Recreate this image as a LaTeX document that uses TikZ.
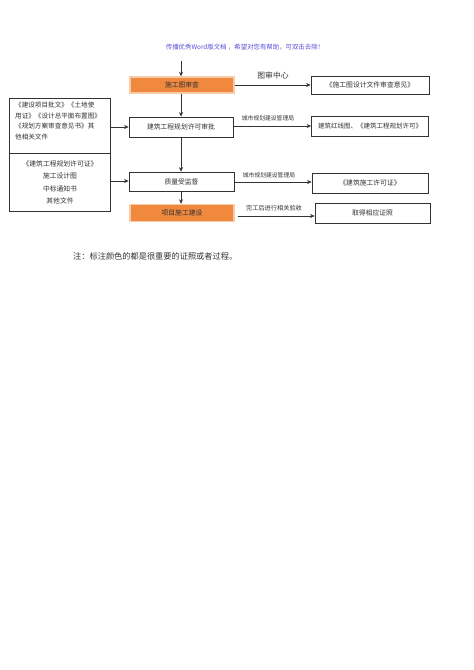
\documentclass[tikz,border=0pt]{standalone}
\usepackage{fontspec}
\setmainfont{Noto Sans CJK SC}
\usetikzlibrary{arrows.meta}
\definecolor{org}{HTML}{F0883E}
\definecolor{orgedge}{HTML}{F7CBA8}
\definecolor{hdr}{HTML}{5A4FD6}
\definecolor{ink}{HTML}{333333}
\begin{document}
\begin{tikzpicture}[x=1pt,y=-1pt,
  box/.style={draw=ink,line width=0.7pt,fill=white,inner sep=0pt,text=ink,
    font=\fontsize{6.8}{8}\selectfont},
  obox/.style={fill=org,draw=orgedge,line width=1.4pt,inner sep=0pt,text=ink,
    font=\fontsize{6.8}{8}\selectfont},
  arr/.style={draw=ink,line width=0.7pt,-{Stealth[length=4.5pt,width=4pt]}},
  lbl/.style={inner sep=0pt,text=ink},
]
\useasboundingbox (0,0) rectangle (474,670);
\fill[white] (0,0) rectangle (474,670);

\node[lbl,text=hdr,font=\fontsize{6.4}{7}\selectfont] (hdr) at (245,47)
  {传播优秀Word版文档 ，希望对您有帮助，可双击去除！};

\coordinate (top) at (181,61);
\node[obox,minimum width=104pt,minimum height=16pt] (A) at (182,85) {施工图审查};
\node[box,minimum width=104pt,minimum height=20pt] (B) at (181,127) {建筑工程规划许可审批};
\node[box,minimum width=105pt,minimum height=19pt] (C) at (181.5,181.5) {质量受监督};
\node[obox,minimum width=104pt,minimum height=17pt] (D) at (182,213) {项目施工建设};

\node[box,minimum width=118pt,minimum height=18pt] (RA) at (370,85) {《施工图设计文件审查意见》};
\node[box,minimum width=117pt,minimum height=20pt,font=\fontsize{6.5}{8}\selectfont] (RB) at (370,126.5) {建筑红线图、《建筑工程规划许可》};
\node[box,minimum width=116pt,minimum height=20pt] (RC) at (370,183) {《建筑施工许可证》};
\node[box,minimum width=115pt,minimum height=20pt] (RD) at (372.5,213) {取得相应证照};

\node[box,minimum width=100.5pt,minimum height=55.5pt] (L1) at (60,125.75) {};
\node[lbl,anchor=west,align=left,font=\fontsize{6.6}{10.6}\selectfont] (L1t) at (15,121)
  {《建设项目批文》《土地使\\用证》《设计总平面布置图》\\《规划方案审查意见书》其\\他相关文件};
\node[box,minimum width=100.5pt,minimum height=57.5pt,align=center,
  font=\fontsize{6.8}{12.5}\selectfont] (L2) at (60,182.25)
  {《建筑工程规划许可证》\\施工设计图\\中标通知书\\其他文件};

\draw[arr] (top) -- (A.north -| top);
\draw[arr] (A.south -| top) -- (B.north -| top);
\draw[arr] (B.south -| top) -- (C.north -| top);
\draw[arr] (C.south -| top) -- (D.north -| top);

\draw[arr] (A.east) -- (RA.west);
\draw[arr] (B.east |- 0,126) -- (RB.west |- 0,126);
\draw[arr] (C.east |- 0,182) -- (RC.west |- 0,182);
\draw[arr] ([xshift=3pt]D.east |- 0,216) -- (RD.west |- 0,216);

\draw[arr] (L1.east |- 0,127) -- (B.west |- 0,127);
\draw[arr] (L2.east |- 0,181) -- (C.west |- 0,181);

\node[lbl,font=\fontsize{7.8}{9}\selectfont] (la) at (273,76) {图审中心};
\node[lbl,font=\fontsize{5.8}{7}\selectfont] (lb) at (268,118.5) {城市规划建设管理局};
\node[lbl,font=\fontsize{5.8}{7}\selectfont] (lc) at (269,175) {城市规划建设管理局};
\node[lbl,font=\fontsize{6.2}{7}\selectfont] (ld) at (274,208) {完工后进行相关验收};

\node[lbl,anchor=west,font=\fontsize{8.2}{10}\selectfont] (note) at (73,256)
  {注：标注颜色的都是很重要的证照或者过程。};
\end{tikzpicture}
\end{document}
